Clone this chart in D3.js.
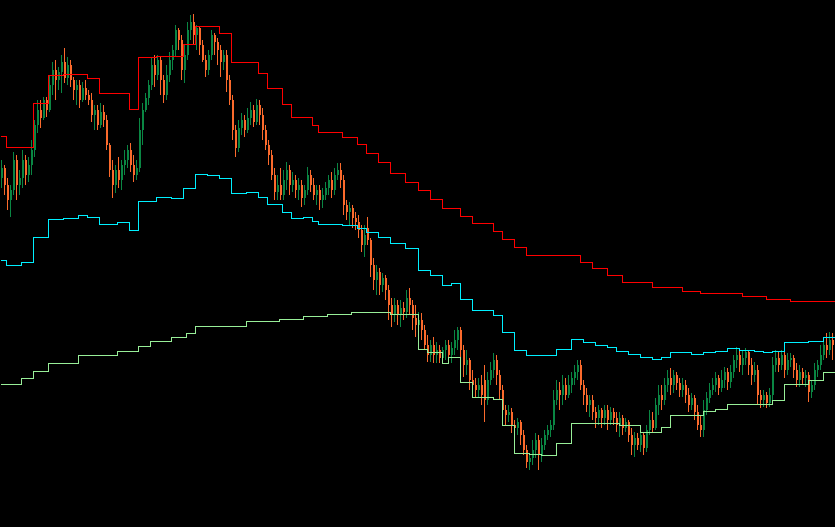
<!DOCTYPE html>
<html><head><meta charset="utf-8">
<script src="https://cdn.jsdelivr.net/npm/d3@7/dist/d3.min.js"></script>
<style>html,body{margin:0;padding:0;background:#000;overflow:hidden}</style>
</head><body>
<svg id="chart" width="835" height="527"></svg>
<script>
// Candles (price units)
const open=[422,432,415,400,410,440,415,422,440,425,
435,450,475,490,482,500,490,515,530,520,
528,538,522,535,520,510,515,500,512,505,
500,485,490,475,488,480,455,430,415,430,
420,435,440,450,435,425,432,470,490,502,
515,535,525,540,520,505,525,540,550,570,
560,530,545,570,578,565,572,555,540,530,
545,565,558,550,538,545,520,500,470,452,
472,480,470,482,490,478,495,485,470,455,
445,425,408,415,405,420,430,415,420,410,
415,402,410,425,415,405,410,400,405,412,
420,410,425,430,420,395,388,392,382,378,
370,355,372,360,335,320,328,315,322,310,
295,285,295,285,292,288,302,295,282,275,
280,270,255,245,255,245,250,242,250,255,
245,252,260,270,250,235,240,220,215,210,
215,220,200,220,230,240,225,210,190,185,
188,175,172,178,165,150,138,142,150,160,
145,155,165,170,175,200,210,205,215,205,
215,222,228,235,215,205,195,200,188,182,
190,182,190,180,188,182,175,182,172,178,
165,155,162,155,165,152,170,180,172,195,
205,200,215,222,215,225,217,210,215,205,
195,202,188,175,170,190,202,210,215,222,
212,220,228,218,228,240,245,235,242,248,
235,225,230,205,200,205,197,205,235,242,
235,245,230,240,242,230,220,228,222,225,
208,215,230,235,245,255,250,260];
const high=[440,435,422,415,448,445,430,450,445,443,
460,480,500,500,503,503,525,538,540,533,
545,552,543,540,523,520,520,518,520,510,
507,495,495,497,495,485,457,440,435,443,
440,450,455,457,445,440,482,497,507,520,
543,545,545,543,525,535,548,555,575,572,
565,555,578,585,586,575,573,560,545,550,
570,567,562,555,550,550,525,505,475,480,
487,485,492,498,495,501,500,492,475,460,
450,432,425,432,430,438,435,428,425,422,
420,415,433,430,422,415,415,412,418,425,
428,432,437,437,425,400,398,395,388,385,
375,375,383,362,342,335,332,327,325,315,
302,302,300,300,298,310,312,300,295,288,
287,275,265,260,263,258,255,253,260,260,
258,270,273,273,255,250,242,230,222,222,
225,235,228,238,247,245,230,215,195,195,
192,180,182,180,170,155,147,160,167,165,
162,170,175,180,210,220,218,225,222,225,
228,235,240,240,220,212,205,205,193,195,
192,195,195,193,192,188,188,185,182,180,
172,168,167,170,168,175,190,188,202,215,
215,222,230,232,230,228,222,222,220,212,
207,205,195,185,200,208,217,222,228,225,
230,233,232,235,245,253,250,250,252,250,
242,238,235,210,210,208,212,243,250,248,
250,248,247,247,245,237,235,232,230,228,
220,237,240,255,263,267,268,267];
const low=[412,405,390,383,405,400,405,412,415,418,
425,443,467,472,480,483,488,505,500,510,
507,517,515,513,500,495,492,498,500,495,
478,470,470,472,473,450,423,402,407,412,
410,425,432,428,418,420,428,455,488,495,
510,513,520,505,497,500,518,530,543,550,
520,517,540,560,555,550,545,538,523,525,
540,545,535,523,530,508,495,460,443,448,
465,463,467,475,473,475,475,460,450,435,
420,400,400,400,400,410,405,408,402,400,
393,395,405,408,400,395,390,392,400,405,
402,405,420,412,385,380,375,372,370,362,
348,343,355,323,310,305,305,308,300,280,
273,278,275,273,280,282,285,270,263,265,
260,250,238,238,237,237,237,237,240,238,
237,245,250,240,223,225,210,208,203,203,
195,178,195,215,222,215,200,185,175,178,
167,164,165,155,145,132,130,135,142,130,
138,150,160,163,170,195,190,195,200,202,
207,215,220,210,195,188,183,180,172,175,
172,175,170,175,175,168,163,165,168,158,
145,143,150,148,145,148,165,167,170,185,
190,195,208,205,207,210,203,203,197,188,
190,180,170,163,163,185,197,205,208,205,
208,212,210,212,222,232,228,225,235,225,
215,218,195,192,193,192,193,200,228,228,
230,222,225,233,222,213,213,215,213,198,
202,210,223,230,240,242,245,240];
const close=[432,415,400,410,440,415,422,440,425,435,
450,475,490,482,500,490,515,530,520,528,
538,522,535,520,510,515,500,512,505,500,
485,490,475,488,480,455,430,415,430,420,
435,440,450,435,425,432,470,490,502,515,
535,525,540,520,505,525,540,550,570,560,
530,545,570,578,565,572,555,540,530,545,
565,558,550,538,545,520,500,470,452,472,
480,470,482,490,478,495,485,470,455,445,
425,408,415,405,420,430,415,420,410,415,
402,410,425,415,405,410,400,405,412,420,
410,425,430,420,395,388,392,382,378,370,
355,365,360,335,320,328,315,322,310,295,
285,295,285,292,288,302,295,282,275,280,
270,255,245,255,245,250,242,250,255,245,
252,260,270,250,235,240,220,215,210,215,
205,200,220,230,240,225,210,190,185,188,
175,172,178,165,150,138,142,150,160,145,
155,165,170,175,200,210,205,215,205,215,
222,228,235,215,205,195,200,188,182,190,
182,190,180,188,182,175,182,172,178,165,
155,162,155,165,152,170,180,172,195,205,
200,215,222,215,225,217,210,215,205,195,
202,188,175,170,190,202,210,215,222,212,
220,228,218,228,240,245,235,242,248,235,
225,230,205,200,205,197,205,235,242,235,
245,230,240,242,230,220,228,222,225,208,
215,230,235,245,255,250,260,255];

// Step lines: bar index where each level starts, and the level
const redStart=[0,2,11,16,21,29,33,43,46,52,61,65,73,77,86,89,94,97,104,106,114,119,122,126,130,135,139,143,147,153,157,164,167,171,175,193,197,202,207,217,227,233,247,255,263];
const redLevel=[464,453,497,525,526,522,507,491,543,544,556,574,567,538,527,512,496,483,475,468,463,456,447,438,427,418,410,401,392,384,377,369,361,353,345,338,332,325,318,313,309,307,304,301,299];
const cyanStart=[0,2,7,11,16,21,26,29,33,39,43,46,52,57,61,65,69,73,77,82,86,89,94,97,101,104,106,114,119,122,126,130,135,139,143,147,150,153,157,164,167,171,175,185,190,194,198,202,205,209,213,217,220,223,230,234,238,242,246,251,254,257,261,269,274];
const cyanLevel=[340,335,338,363,381,382,385,383,376,378,370,399,403,402,412,426,425,422,407,408,403,396,388,382,383,379,376,375,372,368,363,357,352,330,325,315,317,301,290,285,268,250,245,251,261,258,255,253,249,246,243,241,243,248,246,248,249,252,250,249,248,249,258,259,263];
const greenStart=[0,7,11,16,26,39,46,50,57,62,65,82,93,101,109,117,130,139,142,147,149,153,157,164,167,171,176,180,185,190,206,213,220,223,234,238,242,257,261,269,274];
const greenLevel=[216,222,229,237,245,249,254,259,263,267,274,279,281,284,286,288,286,251,248,237,243,218,203,201,175,147,146,145,157,177,175,168,173,185,189,191,196,200,216,220,228];

const W=835,H=527,N=open.length;
const svg=d3.select("#chart");
svg.append("rect").attr("width",W).attr("height",H).attr("fill","#000");
const x=d3.scaleLinear().domain([0,N]).range([0,W]);
const y=d3.scaleLinear().domain([73,600]).range([H,0]);

const bars=d3.range(N).map(i=>({i,o:open[i],h:high[i],l:low[i],c:close[i]}));
const UP="#0a8643",DN="#fb6a2c";
const g=svg.append("g").attr("shape-rendering","crispEdges");
g.selectAll("rect.w").data(bars).join("rect").attr("class","w")
 .attr("x",d=>Math.round(x(d.i+0.5))-1).attr("width",1)
 .attr("y",d=>y(d.h)).attr("height",d=>Math.max(1,y(d.l)-y(d.h)))
 .attr("fill",d=>d.c>=d.o?UP:DN);
g.selectAll("rect.b").data(bars).join("rect").attr("class","b")
 .attr("x",d=>Math.round(x(d.i+0.5))-1).attr("width",2)
 .attr("y",d=>y(Math.max(d.o,d.c))).attr("height",d=>Math.max(1,Math.abs(y(d.o)-y(d.c))))
 .attr("fill",d=>d.c>=d.o?UP:DN);

function stepLine(starts,levels,color){
  const pts=starts.map((s,k)=>[s,levels[k]]);
  pts.push([N,levels[levels.length-1]]);
  const line=d3.line().x(d=>Math.round(x(d[0]))+0.5).y(d=>Math.round(y(d[1]))+0.5).curve(d3.curveStepAfter);
  svg.append("path").attr("d",line(pts)).attr("fill","none").attr("stroke",color).attr("stroke-width",1).attr("shape-rendering","crispEdges");
}
stepLine(greenStart,greenLevel,"#98ee98");
stepLine(cyanStart,cyanLevel,"#00f0ff");
stepLine(redStart,redLevel,"#ff0000");
</script>
</body></html>
